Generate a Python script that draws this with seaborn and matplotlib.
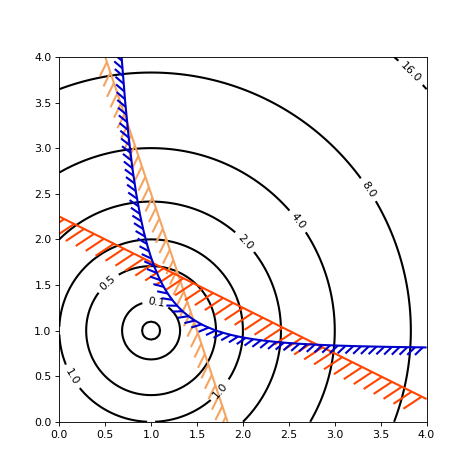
import numpy as np
import matplotlib
matplotlib.use("Agg")
import matplotlib.pyplot as plt
from matplotlib import patheffects
import seaborn as sns

sns.reset_orig()

# contour levels of the objective and axis ticks
levels = [0.01, 0.1, 0.5, 1, 2, 4, 8, 16]
ticks = [0.0, 0.5, 1.0, 1.5, 2.0, 2.5, 3.0, 3.5, 4.0]
constraint_colors = ["sandybrown", "orangered", "mediumblue"]
# where the contour labels sit
label_pos = [(1.05, 1.3), (0.55, 1.5), (0.15, 0.5), (1.75, 0.35),
             (2.05, 2.0), (2.6, 2.2), (3.45, 2.6), (3.85, 3.85)]

nx, ny = 101, 105
xvec = np.linspace(0.001, 4.0, nx)
yvec = np.linspace(0.001, 4.0, ny)
x1, x2 = np.meshgrid(xvec, yvec)

obj = x1**2 + x2**2 - 2 * x1 - 2 * x2 + 2
g1 = -(3 * x1 + x2 - 5.5)
g2 = -(x1 + 2 * x2 - 4.5)
g3 = 0.8 + x1**-3 - x2

fig, ax = plt.subplots(figsize=(6, 6), dpi=79)

lw = 1.9
cntr = ax.contour(x1, x2, obj, levels, colors="black", linewidths=lw)
ax.clabel(cntr, fmt="%2.1f", use_clabeltext=True, manual=label_pos)

cg1 = ax.contour(x1, x2, g1, [0], colors=constraint_colors[0], linewidths=lw)
cg1.set(path_effects=[patheffects.withTickedStroke(angle=135)])

cg2 = ax.contour(x1, x2, g2, [0], colors=constraint_colors[1], linewidths=lw)
cg2.set(path_effects=[patheffects.withTickedStroke(angle=60, length=2)])

cg3 = ax.contour(x1, x2, g3, [0], colors=constraint_colors[2], linewidths=lw)
cg3.set(path_effects=[patheffects.withTickedStroke(spacing=7)])

ax.set_xlim(0, 4)
ax.set_ylim(0, 4)
ax.set_xticks(ticks)
ax.set_yticks(ticks)

plt.savefig("out.png", dpi=79)
